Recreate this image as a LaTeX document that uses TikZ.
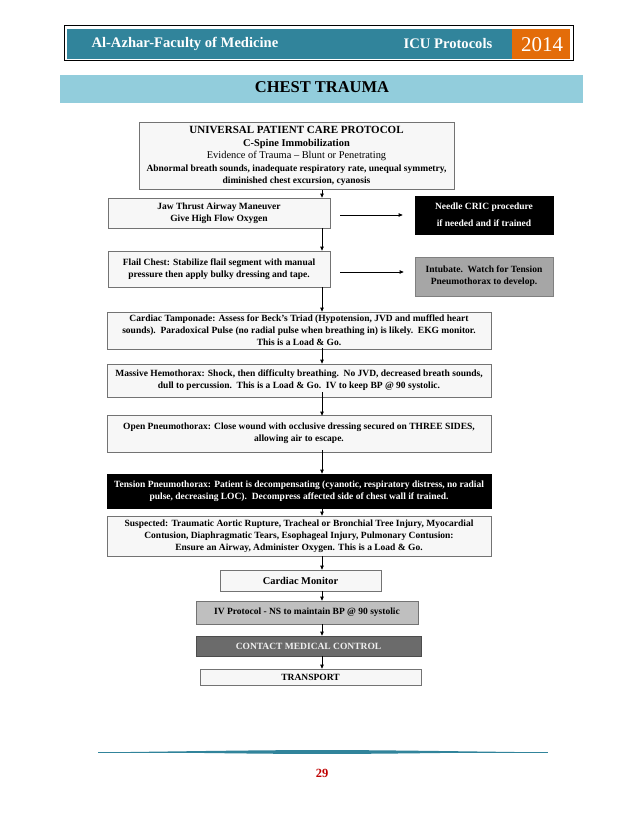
\documentclass[tikz,border=0pt]{standalone}
\usepackage{fontspec}
\setmainfont{Liberation Serif}
\usetikzlibrary{arrows.meta,shadows}
\definecolor{tealbar}{HTML}{31849B}
\definecolor{orng}{HTML}{E36C09}
\definecolor{lblue}{HTML}{92CDDC}
\definecolor{pgred}{HTML}{C00000}
\definecolor{midgray}{HTML}{A6A6A6}
\definecolor{ivgray}{HTML}{BFBFBF}
\definecolor{dkgray}{HTML}{6B6B6B}
\begin{document}
\begin{tikzpicture}[x=1pt,y=-1pt,
  box/.style={draw=black!55, fill=black!3, line width=0.7pt, inner sep=1pt, align=center,
    font=\fontsize{9.5}{12}\selectfont\bfseries, text=black,
    drop shadow={shadow xshift=1pt, shadow yshift=-1pt, fill=black!45, opacity=0.7}},
  darkbox/.style={box, fill=black, draw=black, text=white},
  graybox/.style={box, fill=midgray, draw=black!50},
  conn/.style={line width=0.8pt, -{Triangle[length=4pt,width=3.5pt]}},
  plain/.style={line width=0.8pt}]
\useasboundingbox (0,0) rectangle (638,826);
\fill[white] (0,0) rectangle (638,826);
% header
\draw[black, line width=1pt] (64,26) rectangle (573,61);
\fill[tealbar] (67,29) rectangle (512,59);
\fill[orng] (512,29) rectangle (570,59);
\node[anchor=west, text=white, font=\fontsize{14.6}{16}\selectfont\bfseries] (hl) at (88,44) {Al-Azhar-Faculty of Medicine};
\node[text=white, font=\fontsize{14.6}{16}\selectfont\bfseries] (hm) at (448,44) {ICU Protocols};
\node[text=white, font=\fontsize{21}{23}\selectfont] (hy) at (542,45) {2014};
% title band
\fill[lblue] (60,75) rectangle (583,103);
\node[font=\fontsize{16.5}{18}\selectfont\bfseries] (title) at (322,87) {CHEST TRAUMA};
% axis for vertical connectors
\coordinate (ax) at (322,0);
% boxes
\node[box, minimum width=315pt, minimum height=67pt, font=\fontsize{10.4}{12.6}\selectfont] (top) at (296.5,156)
 {{\fontsize{11}{12.6}\selectfont\bfseries UNIVERSAL PATIENT CARE PROTOCOL}\\\textbf{C-Spine Immobilization}\\Evidence of Trauma – Blunt or Penetrating\\
 {\fontsize{9.5}{12}\selectfont\bfseries Abnormal breath sounds, inadequate respiratory rate, unequal symmetry,}\\
 {\fontsize{9.5}{12}\selectfont\bfseries diminished chest excursion, cyanosis}};
\node[box, minimum width=222pt, minimum height=30pt] (jaw) at (219,213) {Jaw Thrust Airway Maneuver\\Give High Flow Oxygen};
\node[darkbox, minimum width=138pt, minimum height=38pt] (needle) at (484,215) {Needle CRIC procedure\\[5pt]if needed and if trained};
\node[box, minimum width=222pt, minimum height=36pt] (flail) at (219,269) {Flail Chest: Stabilize flail segment with manual\\pressure then apply bulky dressing and tape.};
\node[graybox, minimum width=138pt, minimum height=39pt] (intub) at (484,276.5) {Intubate.\ \ Watch for Tension\\Pneumothorax to develop.};
\node[box, minimum width=384pt, minimum height=37pt] (card) at (299,330.5) {Cardiac Tamponade: Assess for Beck’s Triad (Hypotension, JVD and muffled heart\\sounds).\ \ Paradoxical Pulse (no radial pulse when breathing in) is likely.\ \ EKG monitor.\\This is a Load \& Go.};
\node[box, minimum width=384pt, minimum height=33pt] (mass) at (299,380.5) {Massive Hemothorax: Shock, then difficulty breathing.\ \ No JVD, decreased breath sounds,\\dull to percussion.\ \ This is a Load \& Go.\ \ IV to keep BP @ 90 systolic.};
\node[box, minimum width=384pt, minimum height=37pt] (open) at (299,433.5) {Open Pneumothorax: Close wound with occlusive dressing secured on THREE SIDES,\\allowing air to escape.};
\node[darkbox, minimum width=384pt, minimum height=34pt] (tens) at (299,491) {Tension Pneumothorax: Patient is decompensating (cyanotic, respiratory distress, no radial\\pulse, decreasing LOC).\ \ Decompress affected side of chest wall if trained.};
\node[box, minimum width=384pt, minimum height=40pt] (susp) at (299,536) {Suspected: Traumatic Aortic Rupture, Tracheal or Bronchial Tree Injury, Myocardial\\Contusion, Diaphragmatic Tears, Esophageal Injury, Pulmonary Contusion:\\Ensure an Airway, Administer Oxygen. This is a Load \& Go.};
\node[box, minimum width=161pt, minimum height=21pt, font=\fontsize{10.4}{12}\selectfont\bfseries] (mon) at (300.5,580.5) {Cardiac Monitor};
\node[box, fill=ivgray, minimum width=222pt, minimum height=23pt] (iv) at (307,612.5) {IV Protocol - NS to maintain BP @ 90 systolic};
\node[box, fill=dkgray, draw=black!70, text=black!6, minimum width=225pt, minimum height=20pt] (contact) at (308.5,646) {CONTACT MEDICAL CONTROL};
\node[box, minimum width=221pt, minimum height=16pt] (trans) at (310.5,677) {TRANSPORT};
% vertical connectors
\draw[conn] (top.south -| ax) -- (jaw.north -| ax);
\draw[conn] (jaw.south -| ax) -- (flail.north -| ax);
\draw[conn] (flail.south -| ax) -- (card.north -| ax);
\draw[conn] ([yshift=1pt]card.south -| ax) -- (mass.north -| ax);
\draw[conn] ([yshift=5pt]mass.south -| ax) -- ([yshift=-1pt]open.north -| ax);
\draw[conn] ([yshift=2pt]open.south -| ax) -- (tens.north -| ax);
\draw[conn] (tens.south -| ax) -- (susp.north -| ax);
\draw[conn] (susp.south -| ax) -- (mon.north -| ax);
\draw[conn] (mon.south -| ax) -- (iv.north -| ax);
\draw[conn] (iv.south -| ax) -- (contact.north -| ax);
\draw[conn] (contact.south -| ax) -- (trans.north -| ax);
% horizontal connectors
\draw[conn, shorten <=10pt, shorten >=12pt] ([yshift=-2pt]jaw.east) -- ([yshift=-2pt]jaw.east -| needle.west);
\draw[conn, shorten <=10pt, shorten >=11pt] ([yshift=-3pt]flail.east) -- ([yshift=-3pt]flail.east -| intub.west);
% footer
\draw[tealbar, line width=0.8pt] (98,752) -- (548,752);
\fill[tealbar] (130,752) .. controls (322,749.4) .. (515,752) .. controls (322,754.6) .. (130,752) -- cycle;
\node[text=pgred, font=\fontsize{12.5}{14}\selectfont\bfseries] (pg) at (322,773) {29};
\end{tikzpicture}
\end{document}
